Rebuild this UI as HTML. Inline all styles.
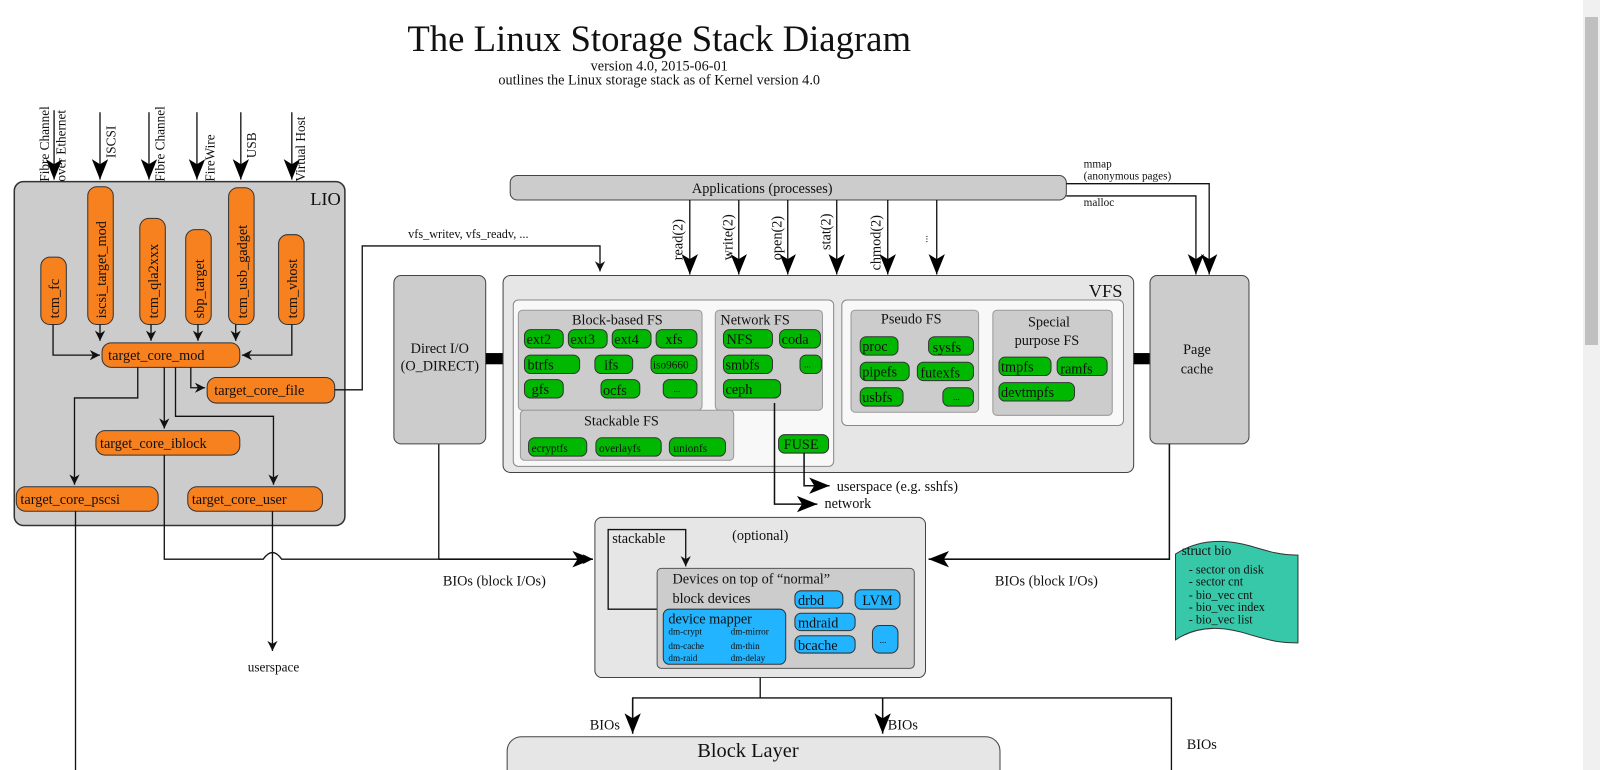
<!DOCTYPE html>
<html><head><meta charset="utf-8"><style>
html,body{margin:0;padding:0;background:#fff;width:1600px;height:770px;overflow:hidden;position:relative}
svg{display:block;position:absolute;left:0;top:0}
text{font-family:"Liberation Serif",serif;fill:#111}
.o{fill:#f7801f;stroke:#333;stroke-width:1}
.g{fill:#00b800;stroke:#333;stroke-width:1}
.b{fill:#22b4ff;stroke:#333;stroke-width:1}
.ln{stroke:#111;stroke-width:1.3;fill:none}
#sb{position:absolute;left:1583px;top:0;width:17px;height:770px;background:#f0f0f0}
#th{position:absolute;left:1585px;top:17px;width:13px;height:328px;background:#c0c0c0}
</style></head><body>
<svg width="1600" height="770" viewBox="0 0 1568 754.6" preserveAspectRatio="none" xmlns="http://www.w3.org/2000/svg">
<defs>
<marker id="a" markerWidth="12" markerHeight="12" refX="10" refY="5" orient="auto" markerUnits="userSpaceOnUse"><path d="M0,0 L10,5 L0,10 L3,5 Z" fill="#111"/></marker>
<marker id="A" markerWidth="22" markerHeight="22" refX="20" refY="8" orient="auto" markerUnits="userSpaceOnUse"><path d="M0,0 L20,8 L0,16 L5,8 Z" fill="#000"/></marker>
</defs>

<text x="646" y="50" font-size="36" text-anchor="middle">The Linux Storage Stack Diagram</text>
<text x="646" y="69" font-size="14" text-anchor="middle">version 4.0, 2015-06-01</text>
<text x="646" y="83" font-size="14" text-anchor="middle">outlines the Linux storage stack as of Kernel version 4.0</text>

<!-- LIO -->
<rect x="14" y="178" width="324" height="337" rx="9" fill="#ccc" stroke="#333" stroke-width="1.5"/>
<text x="304" y="201" font-size="18">LIO</text>
<g class="ln" stroke-width="2">
<line x1="53" y1="108" x2="53" y2="176" marker-end="url(#A)"/>
<line x1="98" y1="110" x2="98" y2="176" marker-end="url(#A)"/>
<line x1="146" y1="110" x2="146" y2="176" marker-end="url(#A)"/>
<line x1="193" y1="110" x2="193" y2="176" marker-end="url(#A)"/>
<line x1="236" y1="110" x2="236" y2="176" marker-end="url(#A)"/>
<line x1="286" y1="110" x2="286" y2="176" marker-end="url(#A)"/>
</g>
<g font-size="13">
<text transform="translate(48,178) rotate(-90)">Fibre Channel</text>
<text transform="translate(64,178) rotate(-90)">over Ethernet</text>
<text transform="translate(113,155) rotate(-90)">ISCSI</text>
<text transform="translate(161,178) rotate(-90)">Fibre Channel</text>
<text transform="translate(210,178) rotate(-90)">FireWire</text>
<text transform="translate(251,155) rotate(-90)">USB</text>
<text transform="translate(299,178) rotate(-90)">Virtual Host</text>
</g>
<rect class="o" x="40" y="252" width="25" height="66" rx="9"/>
<rect class="o" x="86" y="183" width="25" height="135" rx="9"/>
<rect class="o" x="137" y="214" width="25" height="104" rx="9"/>
<rect class="o" x="182" y="225" width="25" height="93" rx="9"/>
<rect class="o" x="224" y="184" width="25" height="134" rx="9"/>
<rect class="o" x="273" y="230" width="25" height="88" rx="9"/>
<g font-size="14">
<text transform="translate(58,312) rotate(-90)">tcm_fc</text>
<text transform="translate(104,312) rotate(-90)">iscsi_target_mod</text>
<text transform="translate(155,312) rotate(-90)">tcm_qla2xxx</text>
<text transform="translate(200,312) rotate(-90)">sbp_target</text>
<text transform="translate(242,312) rotate(-90)">tcm_usb_gadget</text>
<text transform="translate(291,312) rotate(-90)">tcm_vhost</text>
</g>
<rect class="o" x="100" y="336" width="135" height="24" rx="9"/>
<rect class="o" x="203" y="370" width="125" height="25" rx="9"/>
<rect class="o" x="94" y="422" width="141" height="24" rx="9"/>
<rect class="o" x="16" y="477" width="139" height="24" rx="9"/>
<rect class="o" x="184" y="477" width="132" height="24" rx="9"/>
<g font-size="14">
<text x="106" y="353">target_core_mod</text>
<text x="210" y="387">target_core_file</text>
<text x="98" y="439">target_core_iblock</text>
<text x="20" y="494">target_core_pscsi</text>
<text x="188" y="494">target_core_user</text>
</g>
<g class="ln">
<polyline points="52,318 52,348 98,348" marker-end="url(#a)"/>
<line x1="98" y1="318" x2="98" y2="334" marker-end="url(#a)"/>
<line x1="148" y1="318" x2="148" y2="334" marker-end="url(#a)"/>
<line x1="194" y1="318" x2="194" y2="334" marker-end="url(#a)"/>
<line x1="231" y1="318" x2="231" y2="334" marker-end="url(#a)"/>
<polyline points="286,318 286,348 237,348" marker-end="url(#a)"/>
<polyline points="135,360 135,390 73,390 73,475" marker-end="url(#a)"/>
<line x1="161" y1="360" x2="161" y2="420" marker-end="url(#a)"/>
<polyline points="172,360 172,408 268,408 268,475" marker-end="url(#a)"/>
<polyline points="187,360 187,380 201,380" marker-end="url(#a)"/>
<polyline points="328,382 355,382 355,241 588,241 588,266" marker-end="url(#a)"/>
<line x1="74" y1="501" x2="74" y2="770"/>
<path d="M161,446 L161,548 L258,548 Q267,535 276,548 L581,548" marker-end="url(#a)"/>
<line x1="267" y1="501" x2="267" y2="638" marker-end="url(#a)"/>
<line x1="430" y1="435" x2="430" y2="548"/>
</g>
<text x="400" y="233" font-size="12">vfs_writev, vfs_readv, ...</text>
<text x="268" y="658" font-size="13" text-anchor="middle">userspace</text>
<text x="434" y="574" font-size="14">BIOs (block I/Os)</text>

<!-- Applications -->
<rect x="500" y="172" width="545" height="24" rx="7" fill="#ccc" stroke="#444"/>
<text x="747" y="189" font-size="14" text-anchor="middle">Applications (processes)</text>
<g class="ln" stroke-width="2">
<line x1="676" y1="196" x2="676" y2="269" marker-end="url(#A)"/>
<line x1="724" y1="196" x2="724" y2="269" marker-end="url(#A)"/>
<line x1="772" y1="196" x2="772" y2="269" marker-end="url(#A)"/>
<line x1="820" y1="196" x2="820" y2="269" marker-end="url(#A)"/>
<line x1="870" y1="196" x2="870" y2="269" marker-end="url(#A)"/>
<line x1="918" y1="196" x2="918" y2="269" marker-end="url(#A)"/>
<polyline points="1045,180 1185,180 1185,269" marker-end="url(#A)"/>
<polyline points="1045,192 1172,192 1172,269" marker-end="url(#A)"/>
</g>
<g font-size="14">
<text transform="translate(669,255) rotate(-90)">read(2)</text>
<text transform="translate(718,255) rotate(-90)">write(2)</text>
<text transform="translate(766,255) rotate(-90)">open(2)</text>
<text transform="translate(814,245) rotate(-90)">stat(2)</text>
<text transform="translate(863,265) rotate(-90)">chmod(2)</text>
<text transform="translate(909,238) rotate(-90)" font-size="10">...</text>
</g>
<g font-size="11">
<text x="1062" y="164">mmap</text>
<text x="1062" y="176">(anonymous pages)</text>
<text x="1062" y="202">malloc</text>
</g>

<!-- Direct IO -->
<rect x="386" y="270" width="90" height="165" rx="7" fill="#ccc" stroke="#444"/>
<text x="431" y="346" font-size="14" text-anchor="middle">Direct I/O</text>
<text x="431" y="363" font-size="14" text-anchor="middle">(O_DIRECT)</text>
<rect x="476" y="346" width="17" height="11" fill="#000"/>

<!-- VFS -->
<rect x="493" y="270" width="618" height="193" rx="7" fill="#e6e6e6" stroke="#444"/>
<text x="1100" y="291" font-size="18" text-anchor="end">VFS</text>
<rect x="503" y="294" width="314" height="163" rx="5" fill="#f8f8f8" stroke="#888"/>
<rect x="825" y="294" width="276" height="123" rx="5" fill="#f8f8f8" stroke="#888"/>
<rect x="508" y="304" width="180" height="98" rx="4" fill="#ccc" stroke="#999"/>
<text x="605" y="318" font-size="14" text-anchor="middle">Block-based FS</text>
<rect x="701" y="304" width="105" height="98" rx="4" fill="#ccc" stroke="#999"/>
<text x="706" y="318" font-size="14">Network FS</text>
<rect x="510" y="402" width="209" height="49" rx="4" fill="#ccc" stroke="#999"/>
<text x="609" y="417" font-size="14" text-anchor="middle">Stackable FS</text>
<rect x="834" y="304" width="125" height="100" rx="4" fill="#ccc" stroke="#999"/>
<text x="893" y="317" font-size="14" text-anchor="middle">Pseudo FS</text>
<rect x="973" y="304" width="117" height="103" rx="4" fill="#ccc" stroke="#999"/>
<text x="1028" y="320" font-size="14" text-anchor="middle">Special</text>
<text x="1026" y="338" font-size="14" text-anchor="middle">purpose FS</text>
<g>
<rect class="g" x="514" y="323" width="38" height="18" rx="6"/>
<rect class="g" x="557" y="323" width="38" height="18" rx="6"/>
<rect class="g" x="600" y="323" width="38" height="18" rx="6"/>
<rect class="g" x="643" y="323" width="40" height="18" rx="6"/>
<rect class="g" x="514" y="348" width="54" height="18" rx="6"/>
<rect class="g" x="583" y="348" width="37" height="18" rx="6"/>
<rect class="g" x="638" y="348" width="45" height="18" rx="6"/>
<rect class="g" x="514" y="372" width="38" height="18" rx="6"/>
<rect class="g" x="589" y="372" width="38" height="18" rx="6"/>
<rect class="g" x="650" y="372" width="33" height="18" rx="6"/>
<rect class="g" x="709" y="323" width="48" height="18" rx="6"/>
<rect class="g" x="764" y="323" width="40" height="18" rx="6"/>
<rect class="g" x="709" y="348" width="48" height="18" rx="6"/>
<rect class="g" x="784" y="348" width="21" height="18" rx="6"/>
<rect class="g" x="709" y="372" width="56" height="18" rx="6"/>
<rect class="g" x="518" y="429" width="57" height="18" rx="6"/>
<rect class="g" x="584" y="429" width="64" height="18" rx="6"/>
<rect class="g" x="656" y="429" width="55" height="18" rx="6"/>
<rect class="g" x="763" y="426" width="49" height="18" rx="6"/>
<rect class="g" x="843" y="330" width="37" height="18" rx="6"/>
<rect class="g" x="910" y="330" width="44" height="18" rx="6"/>
<rect class="g" x="843" y="355" width="48" height="18" rx="6"/>
<rect class="g" x="899" y="355" width="55" height="18" rx="6"/>
<rect class="g" x="843" y="380" width="42" height="18" rx="6"/>
<rect class="g" x="924" y="380" width="30" height="18" rx="6"/>
<rect class="g" x="979" y="350" width="51" height="18" rx="6"/>
<rect class="g" x="1036" y="350" width="49" height="18" rx="6"/>
<rect class="g" x="979" y="375" width="74" height="18" rx="6"/>
</g>
<g font-size="14">
<text x="516" y="337">ext2</text><text x="559" y="337">ext3</text><text x="602" y="337">ext4</text><text x="652" y="337">xfs</text>
<text x="517" y="362">btrfs</text><text x="592" y="362">ifs</text><text x="640" y="361" font-size="11">iso9660</text>
<text x="521" y="386">gfs</text><text x="591" y="387">ocfs</text><text x="660" y="384" font-size="9">...</text>
<text x="712" y="337">NFS</text><text x="766" y="337">coda</text>
<text x="711" y="362">smbfs</text><text x="788" y="360" font-size="9">...</text>
<text x="711" y="386">ceph</text>
<text x="521" y="443" font-size="11">ecryptfs</text><text x="587" y="443" font-size="11">overlayfs</text><text x="660" y="443" font-size="11">unionfs</text>
<text x="768" y="440">FUSE</text>
<text x="845" y="344">proc</text><text x="914" y="345">sysfs</text>
<text x="845" y="369">pipefs</text><text x="902" y="370">futexfs</text>
<text x="845" y="394">usbfs</text><text x="934" y="392" font-size="9">...</text>
<text x="981" y="364">tmpfs</text><text x="1039" y="366">ramfs</text>
<text x="981" y="389">devtmpfs</text>
</g>
<rect x="1111" y="346" width="16" height="11" fill="#000"/>
<rect x="1127" y="270" width="97" height="165" rx="7" fill="#ccc" stroke="#444"/>
<text x="1173" y="347" font-size="14" text-anchor="middle">Page</text>
<text x="1173" y="366" font-size="14" text-anchor="middle">cache</text>

<g class="ln">
<polyline points="759,395 759,494 801,494" marker-end="url(#A)" stroke-width="1.5"/>
<polyline points="788,444 788,476 813,476" marker-end="url(#A)" stroke-width="1.5"/>
<polyline points="1146,435 1146,548 910,548" marker-end="url(#A)" stroke-width="1.5"/>
<line x1="430" y1="548" x2="581" y2="548" marker-end="url(#A)" stroke-width="1.5"/>
</g>
<text x="808" y="498" font-size="14">network</text>
<text x="820" y="481" font-size="14">userspace (e.g. sshfs)</text>
<text x="975" y="574" font-size="14">BIOs (block I/Os)</text>

<!-- optional -->
<rect x="583" y="507" width="324" height="157" rx="7" fill="#e6e6e6" stroke="#444"/>
<text x="745" y="529" font-size="14" text-anchor="middle">(optional)</text>
<polyline class="ln" points="644,597 596,597 596,519 672,519 672,555" marker-end="url(#a)"/>
<text x="600" y="532" font-size="14">stackable</text>
<rect x="644" y="557" width="252" height="98" rx="4" fill="#ccc" stroke="#555"/>
<text x="659" y="572" font-size="14">Devices on top of “normal”</text>
<text x="659" y="591" font-size="14">block devices</text>
<rect class="b" x="650" y="597" width="120" height="54" rx="6"/>
<text x="655" y="611" font-size="14">device mapper</text>
<g font-size="9">
<text x="655" y="622">dm-crypt</text><text x="716" y="622">dm-mirror</text>
<text x="655" y="636">dm-cache</text><text x="716" y="636">dm-thin</text>
<text x="655" y="648">dm-raid</text><text x="716" y="648">dm-delay</text>
</g>
<rect class="b" x="779" y="579" width="47" height="17" rx="6"/>
<rect class="b" x="838" y="578" width="44" height="19" rx="6"/>
<rect class="b" x="779" y="601" width="59" height="17" rx="6"/>
<rect class="b" x="779" y="623" width="59" height="17" rx="6"/>
<rect class="b" x="855" y="613" width="25" height="27" rx="7"/>
<g font-size="14">
<text x="782" y="593">drbd</text><text x="845" y="593">LVM</text>
<text x="782" y="615">mdraid</text><text x="782" y="637">bcache</text>
<text x="862" y="630" font-size="9">...</text>
</g>
<g class="ln">
<line x1="745" y1="664" x2="745" y2="684"/>
<polyline points="620,719 620,684 1148,684 1148,770"/>
<line x1="620" y1="684" x2="620" y2="719" marker-end="url(#A)" stroke-width="1.5"/>
<line x1="865" y1="684" x2="865" y2="719" marker-end="url(#A)" stroke-width="1.5"/>
</g>
<text x="578" y="715" font-size="14">BIOs</text>
<text x="870" y="715" font-size="14">BIOs</text>
<text x="1163" y="734" font-size="14">BIOs</text>
<rect x="497" y="722" width="483" height="70" rx="14" fill="#e6e6e6" stroke="#444"/>
<text x="733" y="742" font-size="20" text-anchor="middle">Block Layer</text>

<!-- struct bio -->
<path d="M1152,543 C1175,528 1200,528 1225,535 C1245,541 1255,544 1272,544 L1272,630 C1255,630 1245,628 1225,622 C1200,614 1175,612 1152,627 Z" fill="#36c8a8" stroke="#333"/>
<text x="1158" y="544" font-size="13">struct bio</text>
<g font-size="12">
<text x="1165" y="562">- sector on disk</text>
<text x="1165" y="574">- sector cnt</text>
<text x="1165" y="587">- bio_vec cnt</text>
<text x="1165" y="599">- bio_vec index</text>
<text x="1165" y="611">- bio_vec list</text>
</g>
</svg>
<div id="sb"></div><div id="th"></div>
</body></html>
